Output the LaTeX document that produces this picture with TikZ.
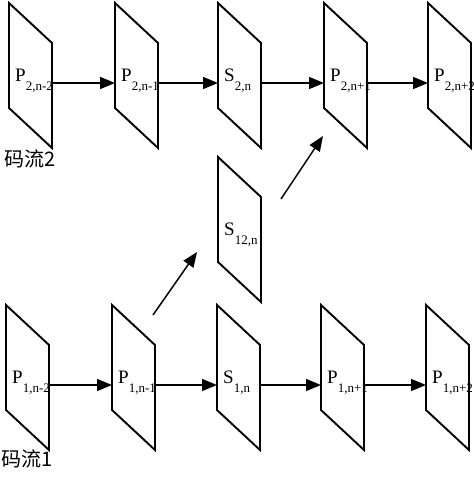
\documentclass[tikz,border=0pt]{standalone}
\usepackage{fontspec}
\setmainfont{Liberation Serif}
\newfontfamily\cjk{Noto Sans CJK SC}
\usetikzlibrary{arrows.meta}

\newcommand{\fr}[2]{#1\raisebox{-9pt}{\fontsize{13}{13}\selectfont #2}}

\begin{document}
\begin{tikzpicture}[x=1pt,y=-1pt]
            \tikzset{
                edge/.style={line width=1.9pt,line join=miter},
                arr/.style={line width=1.5pt,-{Triangle[length=15pt,width=12pt]}},
                lbl/.style={font=\fontsize{19}{19}\selectfont,inner sep=0pt,anchor=base west},
                stream/.style={font=\cjk\fontsize{20}{20}\selectfont,inner sep=0pt,anchor=base west},
                frm/.pic={
                    \draw[edge] (0,0) -- (43,40) -- (43,145) -- (0,105) -- cycle;
                    \coordinate (-w) at (0,80);
                    \coordinate (-e) at (43,80);
                    \node[lbl] (-t) at (6,78) {#1};
                },}
            \useasboundingbox (0,0) rectangle (474,477);
            % stream 2
            \pic (p2a) at (9,3) {frm={\fr{P}{2,n-2}}};
            \pic (p2b) at (115,3) {frm={\fr{P}{2,n-1}}};
            \pic (s2) at (218,3) {frm={\fr{S}{2,n}}};
            \pic (p2c) at (324,3) {frm={\fr{P}{2,n+1}}};
            \pic (p2d) at (428,3) {frm={\fr{P}{2,n+2}}};
            % switching frame
            \pic (s12) at (218,157) {frm={\fr{S}{12,n}}};
            % stream 1
            \pic (p1a) at (6,305) {frm={\fr{P}{1,n-2}}};
            \pic (p1b) at (112,305) {frm={\fr{P}{1,n-1}}};
            \pic (s1) at (217,305) {frm={\fr{S}{1,n}}};
            \pic (p1c) at (321,305) {frm={\fr{P}{1,n+1}}};
            \pic (p1d) at (426,305) {frm={\fr{P}{1,n+2}}};
            \node[stream] (st2) at (4,166) {码流2};
            \node[stream] (st1) at (1,466) {码流1};
            \draw[arr] (p2a-e) -- (p2b-w);
            \draw[arr] (p2b-e) -- (s2-w);
            \draw[arr] (s2-e) -- (p2c-w);
            \draw[arr] (p2c-e) -- (p2d-w);
            \draw[arr] (p1a-e) -- (p1b-w);
            \draw[arr] (p1b-e) -- (s1-w);
            \draw[arr] (s1-e) -- (p1c-w);
            \draw[arr] (p1c-e) -- (p1d-w);
            \coordinate (d1) at (153,315);
            \coordinate (d2) at (197,252);
            \coordinate (d3) at (281,199);
            \coordinate (d4) at (323,136);
            \draw[arr] (d1) -- (d2);
            \draw[arr] (d3) -- (d4);
        \end{tikzpicture}
\end{document}
